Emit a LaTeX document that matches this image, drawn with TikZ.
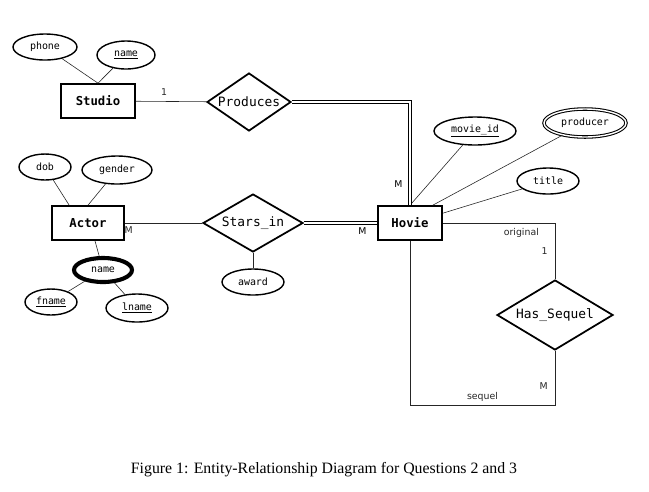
\documentclass[tikz,border=0pt]{standalone}
\usepackage{fontspec}
\setmainfont{Liberation Serif}
\newfontfamily\ermono{DejaVu Sans Mono}
\newfontfamily\ersans{DejaVu Sans}
\usetikzlibrary{arrows,shapes}
\tikzstyle{entity} = [rectangle, draw, line width=1.4pt, font=\ermono\bfseries\fontsize{10.5}{12}\selectfont, inner sep=0pt]
\tikzstyle{attr} = [ellipse, draw, line width=1.2pt, font=\ermono\fontsize{8.5}{10}\selectfont, inner sep=0pt]
\tikzstyle{rel} = [diamond, draw, line width=1.5pt, font=\ermono\fontsize{11}{12}\selectfont, inner sep=0pt, aspect=1.5]
\tikzstyle{line} = [draw, gray!30!black, line width=0.5pt]
\tikzstyle{dline} = [draw, double, double distance=1.6pt, line width=0.7pt]
\tikzstyle{card} = [font=\ersans\fontsize{8}{9}\selectfont, inner sep=0pt]

\begin{document}
\begin{tikzpicture}[x=0.03cm,y=-0.03cm]
         \useasboundingbox (0,0) rectangle (649,491);

         \node (Studio) [entity, minimum width=74*0.03cm, minimum height=34*0.03cm] at (98,101) {Studio};
         \node (Actor)  [entity, minimum width=72*0.03cm, minimum height=34*0.03cm] at (88,223) {Actor};
         \node (Movie)  [entity, minimum width=64*0.03cm, minimum height=34*0.03cm] at (410,223) {Hovie};

         \node (Produces)  [rel, minimum width=84*0.03cm, minimum height=58*0.03cm] at (249,102) {Produces};
         \node (StarsIn)   [rel, minimum width=100*0.03cm, minimum height=58*0.03cm] at (253,223) {Stars\_in};
         \node (HasSequel) [rel, minimum width=116*0.03cm, minimum height=70*0.03cm] at (555,315) {Has\_Sequel};

         \node (phone)   [attr, minimum width=64*0.03cm, minimum height=26*0.03cm] at (45,47) {phone};
         \node (sname)   [attr, minimum width=58*0.03cm, minimum height=28*0.03cm] at (126,55) {\underline{name}};
         \node (dob)     [attr, minimum width=52*0.03cm, minimum height=26*0.03cm] at (45,167) {dob};
         \node (gender)  [attr, minimum width=70*0.03cm, minimum height=28*0.03cm] at (117,170) {gender};
         \node (aname)   [attr, line width=3.5pt, minimum width=58*0.03cm, minimum height=24*0.03cm] at (103,270) {name};
         \node (fname)   [attr, minimum width=52*0.03cm, minimum height=26*0.03cm] at (51,302) {\underline{fname}};
         \node (lname)   [attr, minimum width=62*0.03cm, minimum height=28*0.03cm] at (137,308) {\underline{lname}};
         \node (award)   [attr, minimum width=62*0.03cm, minimum height=26*0.03cm] at (253,282) {award};
         \node (movieid) [attr, minimum width=82*0.03cm, minimum height=28*0.03cm] at (475,131) {\underline{movie\_id}};
         \node (producer)[attr, double, double distance=1.2pt, line width=0.9pt, minimum width=82*0.03cm, minimum height=28*0.03cm] at (585,123) {producer};
         \node (title)   [attr, minimum width=62*0.03cm, minimum height=26*0.03cm] at (548,181) {title};

         \coordinate (loopR) at (555,405);
         \coordinate (loopL) at (410,405);

         % attributes
         \path [line] (phone) -- (Studio.north);
         \path [line] (sname) -- (Studio.north);
         \path [line] (dob) -- ([xshift=18*0.03cm]Actor.north west);
         \path [line] (gender) -- (Actor.north);
         \path [line] ([xshift=7*0.03cm]Actor.south) -- (aname);
         \path [line] (aname) -- (fname);
         \path [line] (aname) -- (lname);
         \path [line] (StarsIn) -- (award);
         \path [line] (movieid) -- (Movie.north);
         \path [line] (producer) -- ([xshift=-10*0.03cm]Movie.north east);
         \path [line] (title) -- ([yshift=-8*0.03cm]Movie.north east);

         % relationships
         \path [line] (Studio) -- node[card, above=5pt, pos=0.4] {1} (Produces);
         \path [dline] (Produces.east) -| node[card, pos=0.9, left=6pt] {M} (Movie.north);
         \path [line] (Actor) -- node[card, pos=0.05, below=3pt] {M} (StarsIn);
         \path [dline] (StarsIn.east) -- node[card, pos=0.8, below=4pt] {M} (Movie.west);
         \path [line] (Movie.east) -| node[card, pos=0.35, below=4pt] {original} node[card, pos=0.75, left=6pt] {1} (HasSequel.north);
         \path [line] (HasSequel.south) -- node[card, pos=0.65, left=6pt] {M} (loopR) -- node[card, pos=0.5, above=3pt] {sequel} (loopL) -- (Movie.south);

         \node (caption) at (324,470) {\fontsize{13.5}{15}\selectfont Figure 1: Entity-Relationship Diagram for Questions 2 and 3};
     \end{tikzpicture}
\end{document}
